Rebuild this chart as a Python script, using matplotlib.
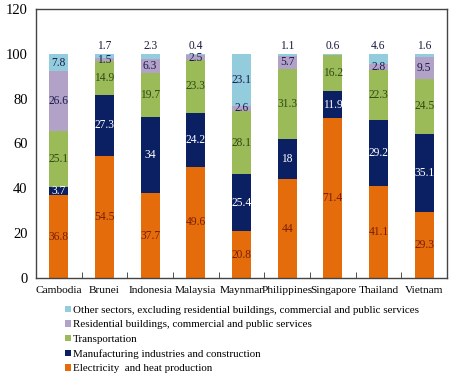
import matplotlib
matplotlib.use("Agg")
import matplotlib.pyplot as plt
import numpy as np

countries = ["Cambodia", "Brunei", "Indonesia", "Malaysia", "Maynmar",
             "Philippines", "Singapore", "Thailand", "Vietnam"]
electricity = [36.8, 54.5, 37.7, 49.6, 20.8, 44, 71.4, 41.1, 29.3]
manufacturing = [3.7, 27.3, 34, 24.2, 25.4, 18, 11.9, 29.2, 35.1]
transport = [25.1, 14.9, 19.7, 23.3, 28.1, 31.3, 16.2, 22.3, 24.5]
residential = [26.6, 1.5, 6.3, 2.5, 2.6, 5.7, 0, 2.8, 9.5]
other = [7.8, 1.7, 2.3, 0.4, 23.1, 1.1, 0.6, 4.6, 1.6]

series = [
    ("Electricity  and heat production", electricity, "#E46C0A", "#7A1F05"),
    ("Manufacturing industries and construction", manufacturing, "#0B1F63", "white"),
    ("Transportation", transport, "#9BBB59", "#2E4A12"),
    ("Residential buildings, commercial and public services", residential, "#B3A2C7", "#1A1A50"),
    ("Other sectors, excluding residential buildings, commercial and public services", other, "#93CDDD", "#1A1A50"),
]

plt.rcParams['font.family'] = ['Liberation Serif', 'DejaVu Serif']

fig = plt.figure(figsize=(4.74, 3.75), dpi=100)
ax = fig.add_axes([0.076, 0.259, 0.867, 0.717])

x = np.arange(len(countries))
bottom = np.zeros(len(countries))
handles = []
for i, (name, vals, col, tcol) in enumerate(series):
    vals = np.array(vals, dtype=float)
    b = ax.bar(x, vals, 0.42, bottom=bottom, color=col, label=name, zorder=2)
    handles.append(b)
    for xi, v, bt in zip(x, vals, bottom):
        if v <= 0:
            continue
        if i == 4 and v < 5:
            ax.text(xi, bt + v + 0.8, f"{v:g}", ha='center', va='bottom',
                    fontsize=8.3, color="#1A1A40", zorder=3)
        else:
            ax.text(xi, bt + v / 2, f"{v:g}", ha='center', va='center',
                    fontsize=8.3, color=tcol, zorder=3)
    bottom += vals

ax.set_ylim(0, 120)
ax.set_xlim(-0.5, len(countries) - 0.5)
ax.set_yticks(np.arange(0, 121, 20))
ax.set_xticks(x)
ax.set_xticklabels(countries, fontsize=8.2)
ax.tick_params(axis='x', which='major', length=0, pad=6)
ax.set_xticks(np.arange(0.5, len(countries) - 1, 1), minor=True)
ax.tick_params(axis='x', which='minor', direction='in', length=4, color='#333333')
ax.tick_params(axis='y', labelsize=10.5, length=0, pad=6)
for s in ax.spines.values():
    s.set_color('#444444')
    s.set_linewidth(1.0)

leg = fig.legend(handles[::-1], [s[0] for s in series][::-1],
                 loc='upper left', bbox_to_anchor=(0.137, 0.185),
                 frameon=False, fontsize=7.9, handlelength=0.55, handleheight=0.55,
                 handletextpad=0.15, labelspacing=0.48, borderaxespad=0, borderpad=0)

fig.savefig("out.png", dpi=100)
